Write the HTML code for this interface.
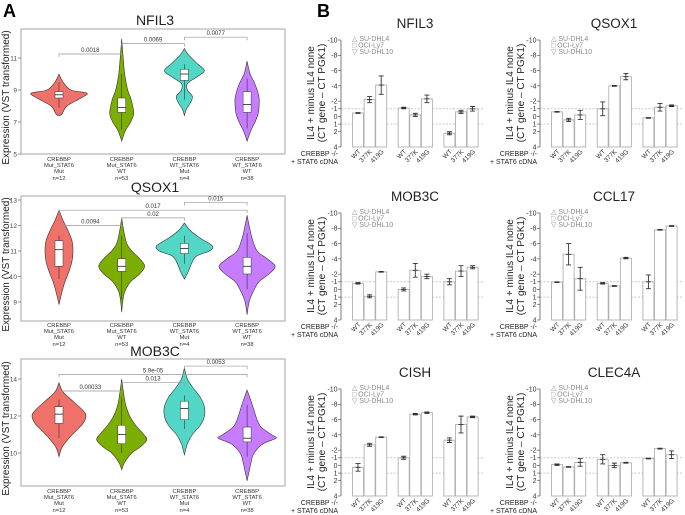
<!DOCTYPE html>
<html><head><meta charset="utf-8"><style>
html,body{margin:0;padding:0;background:#fff;}
svg{display:block;font-family:"Liberation Sans",Arial,sans-serif;}
</style></head><body>
<svg id="fig" width="685" height="515" viewBox="0 0 685 515">
<text x="3" y="17" font-size="18" font-weight="bold">A</text>
<text x="317" y="17" font-size="18" font-weight="bold">B</text>
</svg>
<script>
// ---------------- Panel A data ----------------
const groupLabels = [["CREBBP","Mut_STAT6","Mut","n=12"],["CREBBP","Mut_STAT6","WT","n=53"],["CREBBP","WT_STAT6","Mut","n=4"],["CREBBP","WT_STAT6","WT","n=38"]];
const violinColors = ["#f0706a","#7cae00","#52d6c6","#c77cff"];
const aGenes = ["NFIL3","QSOX1","MOB3C"];
const aTicks = [[5,7,9,11],[9,10,11,12,13],[10,12,14]];
// violin density profiles: levels (expression) and half-widths (density units)
const nfil3Levels = [[7.4,7.5,8.0,8.5,8.8,9.0,9.5,10.0],[5.8,6.0,6.5,7.0,7.5,8.0,8.5,9.0,10.0,11.0,12.2],[7.4,7.8,8.2,8.6,9.0,9.4,9.8,10.2,10.7,11.2,11.6],[5.8,6.0,6.5,7.0,7.5,8.0,8.5,9.0,9.5,10.0,10.8]];
const nfil3Dens = [[0,3,8,22,28,12,4,0],[0,1,4,9,12,11,9,6,3,1.5,0],[0,2,6,8,3,3,12,20,12,4,0],[0,1,4,8,11,12,12,10,7,3,0]];
const qsox1Levels = [[8.9,9.4,9.8,10.2,10.6,11.0,11.4,11.8,12.2,12.6],[8.6,9.0,9.4,9.8,10.1,10.4,10.7,11.0,11.3,11.8,12.3],[9.9,10.2,10.5,10.8,11.0,11.2,11.5,11.8,12.1],[8.5,9.0,9.4,9.8,10.1,10.4,10.7,11.0,11.5,12.0,12.4]];
const qsox1Dens = [[0,3,6,10,13,14,13,9,4,0],[0,1,3,9,18,23,18,10,5,2,0],[0,4,7,12,25,28,16,6,0],[0,2,6,12,22,28,20,10,5,2,0]];
const mob3cLevels = [[9.8,10.3,10.8,11.2,11.6,12.0,12.3,12.8,13.3,13.8],[9.1,9.5,10.0,10.3,10.7,11.0,11.5,12.0,12.6,13.2,14.0],[9.9,10.5,11.0,11.5,12.0,12.5,13.0,13.5,14.0,14.6],[8.5,9.0,9.5,10.0,10.5,10.8,11.0,11.4,11.8,12.3,12.8,13.4]];
const mob3cDens = [[0,3,10,17,24,27,24,14,4,0],[0,3,10,18,25,22,14,8,4,2,0],[0,3,8,16,20,20,16,9,3,0],[0,2,4,7,16,29,24,14,10,7,4,0]];
// box stats: whiskerLow, q1, median, q3, whiskerHigh
const nfil3Box = [[7.9,8.5,8.7,8.9,9.5],[6.5,7.6,7.9,8.5,10.0],[8.4,9.6,10.0,10.3,10.6],[6.6,7.6,8.1,8.9,9.7]];
const qsox1Box = [[9.9,10.4,11.05,11.4,11.6],[9.1,10.2,10.4,10.7,11.6],[10.5,10.9,11.1,11.3,11.6],[9.5,10.1,10.4,10.75,11.7]];
const mob3cBox = [[10.8,11.6,12.1,12.5,12.9],[10.0,10.5,11.0,11.5,13.0],[11.3,11.8,12.4,12.8,13.1],[9.8,10.6,10.8,11.4,12.6]];
// significance brackets: [from, to, level, label]
const nfil3Sig = [[0,1,11.25,"0.0018"],[1,2,11.9,"0.0069"],[2,3,12.3,"0.0077"]];
const qsox1Sig = [[0,1,12.0,"0.0094"],[1,2,12.3,"0.02"],[0,3,12.6,"0.017"],[2,3,12.9,"0.015"]];
const mob3cSig = [[0,1,13.35,"0.00033"],[1,2,13.8,"0.013"],[0,3,14.25,"5.9e-05"],[2,3,14.7,"0.0053"]];

// ---------------- Panel B data ----------------
const bGenes = ["NFIL3","QSOX1","MOB3C","CCL17","CISH","CLEC4A"];
const bTicks = [-10,-8,-6,-4,-2,-1,0,1,2,4];
const bCats = ["WT","377K","419G"];
const nfil3Vals = [-0.45,-2.2,-4.1,-1.1,-0.2,-2.3,2.2,-0.6,-1.0];
const nfil3Err = [0.05,0.4,1.2,0.1,0.2,0.5,0.2,0.2,0.3];
const qsox1Vals = [-0.6,0.45,-0.2,-1.0,-4.0,-5.2,0.2,-1.2,-1.4];
const qsox1Err = [0.05,0.2,0.6,0.9,0.05,0.4,0.05,0.5,0.1];
const mob3cVals = [-0.8,0.9,-2.3,0,-2.5,-1.7,-1.0,-2.4,-2.9];
const mob3cErr = [0.1,0.2,0.05,0.2,0.9,0.3,0.4,0.7,0.2];
const ccl17Vals = [-0.95,-4.6,-1.4,-0.8,-0.45,-4.1,-1.0,-7.8,-8.3];
const ccl17Err = [0.05,1.4,1.5,0.1,0.05,0.1,0.9,0.05,0.05];
const cishVals = [0.25,-2.7,-3.7,-1.0,-6.7,-6.9,-3.3,-5.35,-6.35];
const cishErr = [0.5,0.2,0.05,0.2,0.1,0.1,0.3,1.1,0.1];
const clec4aVals = [-0.1,0.2,-0.4,-0.8,0,-0.35,-0.9,-2.2,-1.4];
const clec4aErr = [0.1,0.05,0.5,0.6,0.3,0.05,0.05,0.05,0.5];

const svg = document.getElementById('fig');
const NS = "http://www.w3.org/2000/svg";
function mk(tag, attrs, parent){const e=document.createElementNS(NS,tag);for(const k in attrs)e.setAttribute(k,attrs[k]);(parent||svg).appendChild(e);return e;}
function txt(x,y,s,size,anchor,parent,fill){const t=mk('text',{x:x,y:y,'font-size':size,'text-anchor':anchor||'middle',fill:fill||'#222'},parent);t.textContent=s;return t;}
function smooth(pts){let d="M"+pts[0][0]+","+pts[0][1];for(let i=0;i<pts.length-1;i++){const p0=pts[Math.max(0,i-1)],p1=pts[i],p2=pts[i+1],p3=pts[Math.min(pts.length-1,i+2)];const c1=[p1[0]+(p2[0]-p0[0])/6,p1[1]+(p2[1]-p0[1])/6],c2=[p2[0]-(p3[0]-p1[0])/6,p2[1]-(p3[1]-p1[1])/6];d+=` C${c1[0]},${c1[1]} ${c2[0]},${c2[1]} ${p2[0]},${p2[1]}`;}return d;}

// ---------- Panel A ----------
const aFrames=[{top:29,bot:154,v1:11,y1:58,v2:7,y2:122,title:25,lab:161},{top:196,bot:321,v1:13,y1:200,v2:9,y2:302,title:192,lab:327},{top:359,bot:486,v1:14,y1:379,v2:10,y2:453,title:356,lab:493}];
const aLevels=[nfil3Levels,qsox1Levels,mob3cLevels], aDens=[nfil3Dens,qsox1Dens,mob3cDens], aBox=[nfil3Box,qsox1Box,mob3cBox], aSig=[nfil3Sig,qsox1Sig,mob3cSig];
const aX=i=>59+i*62.7;
aFrames.forEach((f,p)=>{
  const g=mk('g',{});
  
  
  const y=v=>f.y1+(f.v1-v)*(f.y2-f.y1)/(f.v1-f.v2);
  const tt=txt(155,f.title,aGenes[p],14,'middle',g);
  
  
  mk('rect',{x:21,y:f.top,width:264,height:f.bot-f.top,fill:'none',stroke:'#b5b5b5','stroke-width':1.2},g);
  aTicks[p].forEach(t=>{mk('line',{x1:18,x2:21,y1:y(t),y2:y(t),stroke:'#555','stroke-width':0.6},g);const l=txt(17,y(t)+2.3,String(t),6.5,'end',g,'#444');});
  const yl=txt(0,0,"Expression (VST transformed)",10,'middle',g);
  yl.setAttribute('transform',`translate(9,${(f.top+f.bot)/2+6}) rotate(-90)`);
  
  
  for(let i=0;i<4;i++){
    const cx=aX(i), lv=aLevels[p][i], dn=aDens[p][i];
    const right=lv.map((v,k)=>[cx+dn[k],y(v)]), left=lv.map((v,k)=>[cx-dn[k],y(v)]).reverse();
    const d=smooth(right)+" "+smooth(left).replace('M','L')+"Z";
    const vp=mk('path',{d:d,fill:violinColors[i],stroke:'#333','stroke-width':0.6},g);
    
    
    const b=aBox[p][i];
    mk('line',{x1:cx,x2:cx,y1:y(b[0]),y2:y(b[4]),stroke:'#333','stroke-width':0.6},g);
    const br=mk('rect',{x:cx-4,y:y(b[3]),width:8,height:y(b[1])-y(b[3]),fill:'#fff',stroke:'#333','stroke-width':0.5},g);
    
    
    mk('line',{x1:cx-4,x2:cx+4,y1:y(b[2]),y2:y(b[2]),stroke:'#222','stroke-width':0.8},g);
    groupLabels[i].forEach((s,k)=>{const l=txt(cx,f.lab+k*5.9+(k==3?1.5:0),s,5.8,'middle',g,'#333');});
  }
  aSig[p].forEach(s=>{
    const x1=aX(s[0]),x2=aX(s[1]),yy=y(s[2]);
    const bp=mk('path',{d:`M${x1},${yy+3}V${yy}H${x2}V${yy+3}`,fill:'none',stroke:'#999','stroke-width':0.7},g);
    
    
    const l=txt((x1+x2)/2,yy-2,s[3],6,'middle',g,'#333');
    
    
  });
});

// ---------- Panel B ----------
const bVals=[nfil3Vals,qsox1Vals,mob3cVals,ccl17Vals,cishVals,clec4aVals];
const bErr=[nfil3Err,qsox1Err,mob3cErr,ccl17Err,cishErr,clec4aErr];
const rowTop=[40,213,389], rowTitle=[28,201,377];
const colAxis=[341,540];
const bRange=107;
bGenes.forEach((gene,idx)=>{
  const r=Math.floor(idx/2), c=idx%2, ax=colAxis[c], top=rowTop[r];
  const g=mk('g',{});
  
  
  const y=v=>top+(v+10)*bRange/14;
  const bot=y(4);
  const t=txt(ax+74,rowTitle[r],gene,13.5,'middle',g);
  
  
  [-1,1].forEach(v=>mk('line',{x1:ax,x2:ax+142,y1:y(v),y2:y(v),stroke:'#aaa','stroke-width':0.6,'stroke-dasharray':'2,1.5'},g));
  mk('line',{x1:ax,x2:ax,y1:y(-10),y2:bot,stroke:'#444','stroke-width':0.7},g);
  bTicks.forEach(tk=>{mk('line',{x1:ax-3,x2:ax,y1:y(tk),y2:y(tk),stroke:'#444','stroke-width':0.6},g);const l=txt(ax-3.5,y(tk)+2.4,String(tk),7,'end',g,'#333');});
  const yl1=txt(0,0,"IL4 + minus IL4 none",10,'middle',g);
  yl1.setAttribute('transform',`translate(${ax-27},${top+53}) rotate(-90)`);
  
  
  const yl2=txt(0,0,"(CT gene \u2013 CT PGK1)",10,'middle',g);
  yl2.setAttribute('transform',`translate(${ax-16},${top+53}) rotate(-90)`);
  
  
  const lc1=txt(ax-3,bot+9,"CREBBP -/-",7,'end',g,'#222');
  
  
  const lc2=txt(ax-3,bot+17,"+ STAT6 cDNA",7,'end',g,'#222');
  
  
  ["\u25B3 SU-DHL4","\u25A1 OCI-Ly7","\u25BD SU-DHL10"].forEach((s,k)=>{const l=txt(ax+11,top+k*6.6+1,s,7,'start',g,'#8a8a8a');});
  bVals[idx].forEach((v,i)=>{
    const grp=Math.floor(i/3), k=i%3;
    const x=ax+11.5+grp*45.7+k*11.6, w=11;
    const bar=mk('rect',{x:x,y:Math.min(y(v),bot),width:w,height:Math.abs(bot-y(v)),fill:'#fff',stroke:'#b0b0b0','stroke-width':0.9},g);
    
    
    const e=bErr[idx][i], cx=x+w/2;
    mk('path',{d:`M${cx},${y(v-e)}V${y(v+e)}M${cx-2.5},${y(v-e)}H${cx+2.5}M${cx-2.5},${y(v+e)}H${cx+2.5}M${cx-2.5},${y(v)}H${cx+2.5}`,stroke:'#333','stroke-width':0.9,fill:'none'},g);
    const tl=txt(0,0,bCats[k],6.5,'end',g,'#333');
    tl.setAttribute('transform',`translate(${cx+3},${bot+5}) rotate(-45)`);
    
    
  });
});
</script>
</body></html>
